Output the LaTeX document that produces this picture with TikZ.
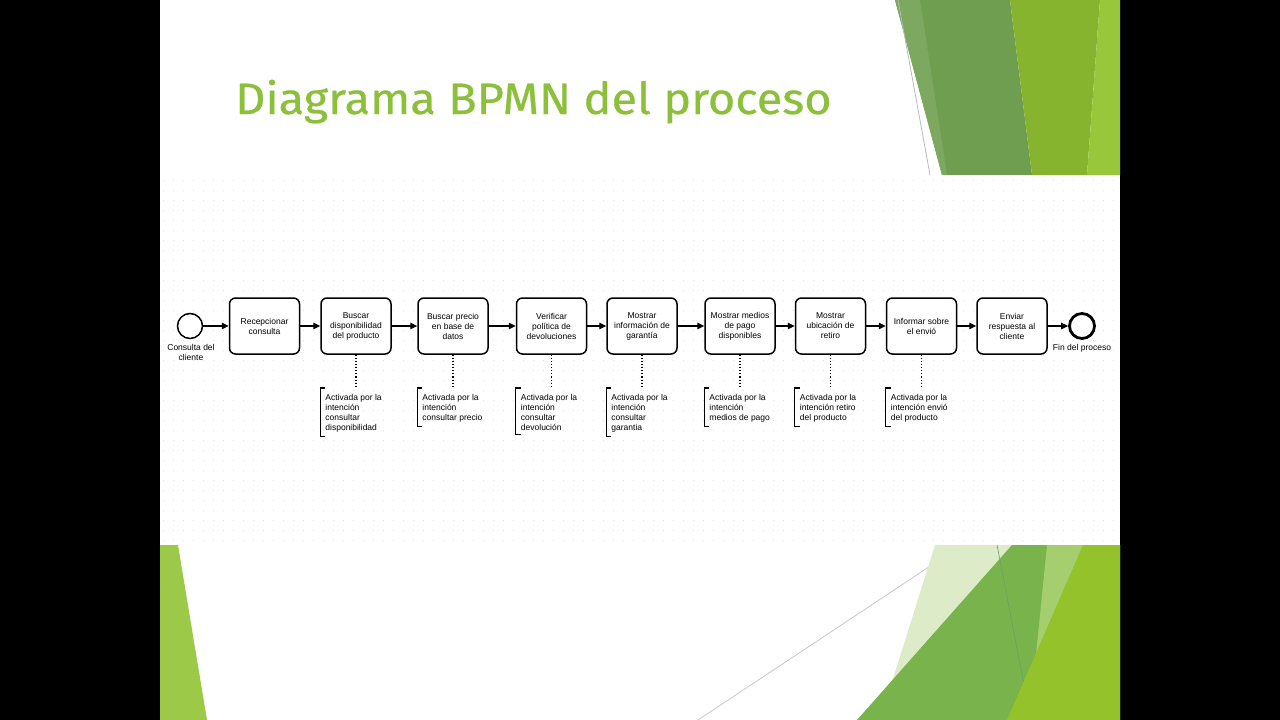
\documentclass[tikz,border=0pt]{standalone}
\usepackage{fontspec}
\setmainfont{Liberation Sans}
\newfontfamily\titlefont[FakeBold=0.5]{Fira Sans}
\usetikzlibrary{arrows.meta,calc}
\definecolor{titlegreen}{RGB}{140,192,58}
\definecolor{dkgreen}{RGB}{112,158,81}
\definecolor{dkgreenlt}{RGB}{124,168,95}
\definecolor{midgreen}{RGB}{134,180,47}
\definecolor{limegreen}{RGB}{152,199,60}
\definecolor{bllime}{RGB}{157,201,72}
\definecolor{palegreen}{RGB}{221,235,200}
\definecolor{medgreen}{RGB}{120,179,75}
\definecolor{lightgreen}{RGB}{165,207,110}
\definecolor{brightlime}{RGB}{147,194,43}
\definecolor{gridgray}{RGB}{225,225,225}
\begin{document}
\begin{tikzpicture}[x=1pt,y=-1pt,
  task/.style={draw, fill=white, line width=1.5pt, rounded corners=6pt,
    minimum width=70pt, minimum height=56pt, align=center, inner sep=1pt,
    font=\fontsize{8.5}{10}\selectfont},
  flow/.style={-{Triangle[length=7pt,width=6.5pt]}, line width=1.3pt},
  assoc/.style={line width=1.1pt, dash pattern=on 1.1pt off 2pt, shorten >=1pt},
  note/.style={align=left, anchor=north west, inner xsep=5pt, inner ysep=5pt,
    font=\fontsize{8.5}{10}\selectfont},
  bracket/.style={line width=1.2pt},
  evt/.style={circle, draw, fill=white, minimum size=25pt, inner sep=0pt, line width=1.5pt},
  endevt/.style={circle, draw, fill=white, minimum size=25pt, inner sep=0pt, line width=2.8pt},
  lbl/.style={align=center, font=\fontsize{8.5}{10}\selectfont, inner sep=0pt}]
\useasboundingbox (0,0) rectangle (1280,720);
\fill[black] (0,0) rectangle (1280,720);
\fill[white] (160,0) rectangle (1120,720);
% top-right decoration
\fill[dkgreen] (895,0) -- (1010,0) -- (1032,175) -- (942,175) -- cycle;
\fill[dkgreenlt] (895,0) -- (920,0) -- (947,175) -- (942,175) -- cycle;
\fill[midgreen] (1010,0) -- (1100,0) -- (1087,175) -- (1032,175) -- cycle;
\fill[limegreen] (1100,0) -- (1120,0) -- (1120,175) -- (1087,175) -- cycle;
\draw[gray!55, line width=0.8pt] (898,0) -- (930,175);
% bottom-left decoration
\fill[bllime] (160,545) -- (178,545) -- (207,720) -- (160,720) -- cycle;
% bottom-right decoration
\draw[gray!40, line width=0.9pt] (698,720) -- (962,545);
\fill[palegreen] (935,545) -- (1050,545) -- (1050,720) -- (880,720) -- cycle;
\fill[medgreen] (1012,545) -- (1120,545) -- (1120,720) -- (857,720) -- cycle;
\draw[green!40!black!60, line width=0.6pt] (997,545) -- (1027,700);
\fill[lightgreen] (1047,545) -- (1083,545) -- (1035,665) -- cycle;
\fill[brightlime] (1083,545) -- (1120,545) -- (1120,720) -- (1007,720) -- cycle;
% diagram canvas
\fill[white] (160,175) rectangle (1120,545);
\foreach \yy in {180,190,...,540}
  \draw[gridgray, line width=1pt, dash pattern=on 1pt off 9pt] (163,\yy) -- (1120,\yy);
% title
\node[anchor=base west, inner sep=0pt, text=titlegreen, xscale=1.066,
  font=\titlefont\fontsize{44}{44}\selectfont]
  (title) at (235,114) {Diagrama BPMN del proceso};
% events and tasks
\node[evt] (start) at (190,326) {};
\node[lbl, anchor=north] (startlbl) at (191,344) {Consulta del\\cliente};
\node[task] (b1) at (264.5,326) {Recepcionar\\consulta};
\node[task] (b2) at (356,326) {Buscar\\disponibilidad\\del producto};
\node[task] (b3) at (453,326) {Buscar precio\\en base de\\datos};
\node[task] (b4) at (551.5,326) {Verificar\\política de\\devoluciones};
\node[task] (b5) at (642,326) {Mostrar\\información de\\garantía};
\node[task] (b6) at (740,326) {Mostrar medios\\de pago\\disponibles};
\node[task] (b7) at (830.5,326) {Mostrar\\ubicación de\\retiro};
\node[task] (b8) at (921.5,326) {Informar sobre\\el envió};
\node[task] (b9) at (1012,326) {Enviar\\respuesta al\\cliente};
\node[endevt] (fin) at (1082,326) {};
\node[lbl, anchor=north] (finlbl) at (1082,344) {Fin del proceso};
% sequence flows
\draw[flow] (start) -- (b1);
\draw[flow] (b1) -- (b2);
\draw[flow] (b2) -- (b3);
\draw[flow] (b3) -- (b4);
\draw[flow] (b4) -- (b5);
\draw[flow] (b5) -- (b6);
\draw[flow] (b6) -- (b7);
\draw[flow] (b7) -- (b8);
\draw[flow] (b8) -- (b9);
\draw[flow] (b9) -- (fin);
% annotations
\node[note, inner ysep=6.5pt] (n2) at (b2.west |- 0,388) {Activada por la\\intención\\consultar\\disponibilidad};
\node[note, inner ysep=6.5pt] (n3) at (b3.west |- 0,388) {Activada por la\\intención\\consultar precio};
\node[note, inner ysep=6.5pt] (n4) at (b4.west |- 0,388) {Activada por la\\intención\\consultar\\devolución};
\node[note, inner ysep=6.5pt] (n5) at (b5.west |- 0,388) {Activada por la\\intención\\consultar\\garantia};
\node[note, inner ysep=6.5pt] (n6) at (b6.west |- 0,388) {Activada por la\\intención\\medios de pago};
\node[note, inner ysep=6.5pt] (n7) at (b7.west |- 0,388) {Activada por la\\intención retiro\\del producto};
\node[note, inner ysep=6.5pt] (n8) at (b8.west |- 0,388) {Activada por la\\intención envió\\del producto};
\foreach \b/\n in {b2/n2,b3/n3,b4/n4,b5/n5,b6/n6,b7/n7,b8/n8}{
  \draw[assoc] (\b.south) -- (\b.south |- \n.north);
  \draw[bracket] ($(\n.north west)+(5,0)$) -- (\n.north west) -- ($(\n.south west)+(0,-3)$) -- ++(5,0);
}
\end{tikzpicture}
\end{document}
